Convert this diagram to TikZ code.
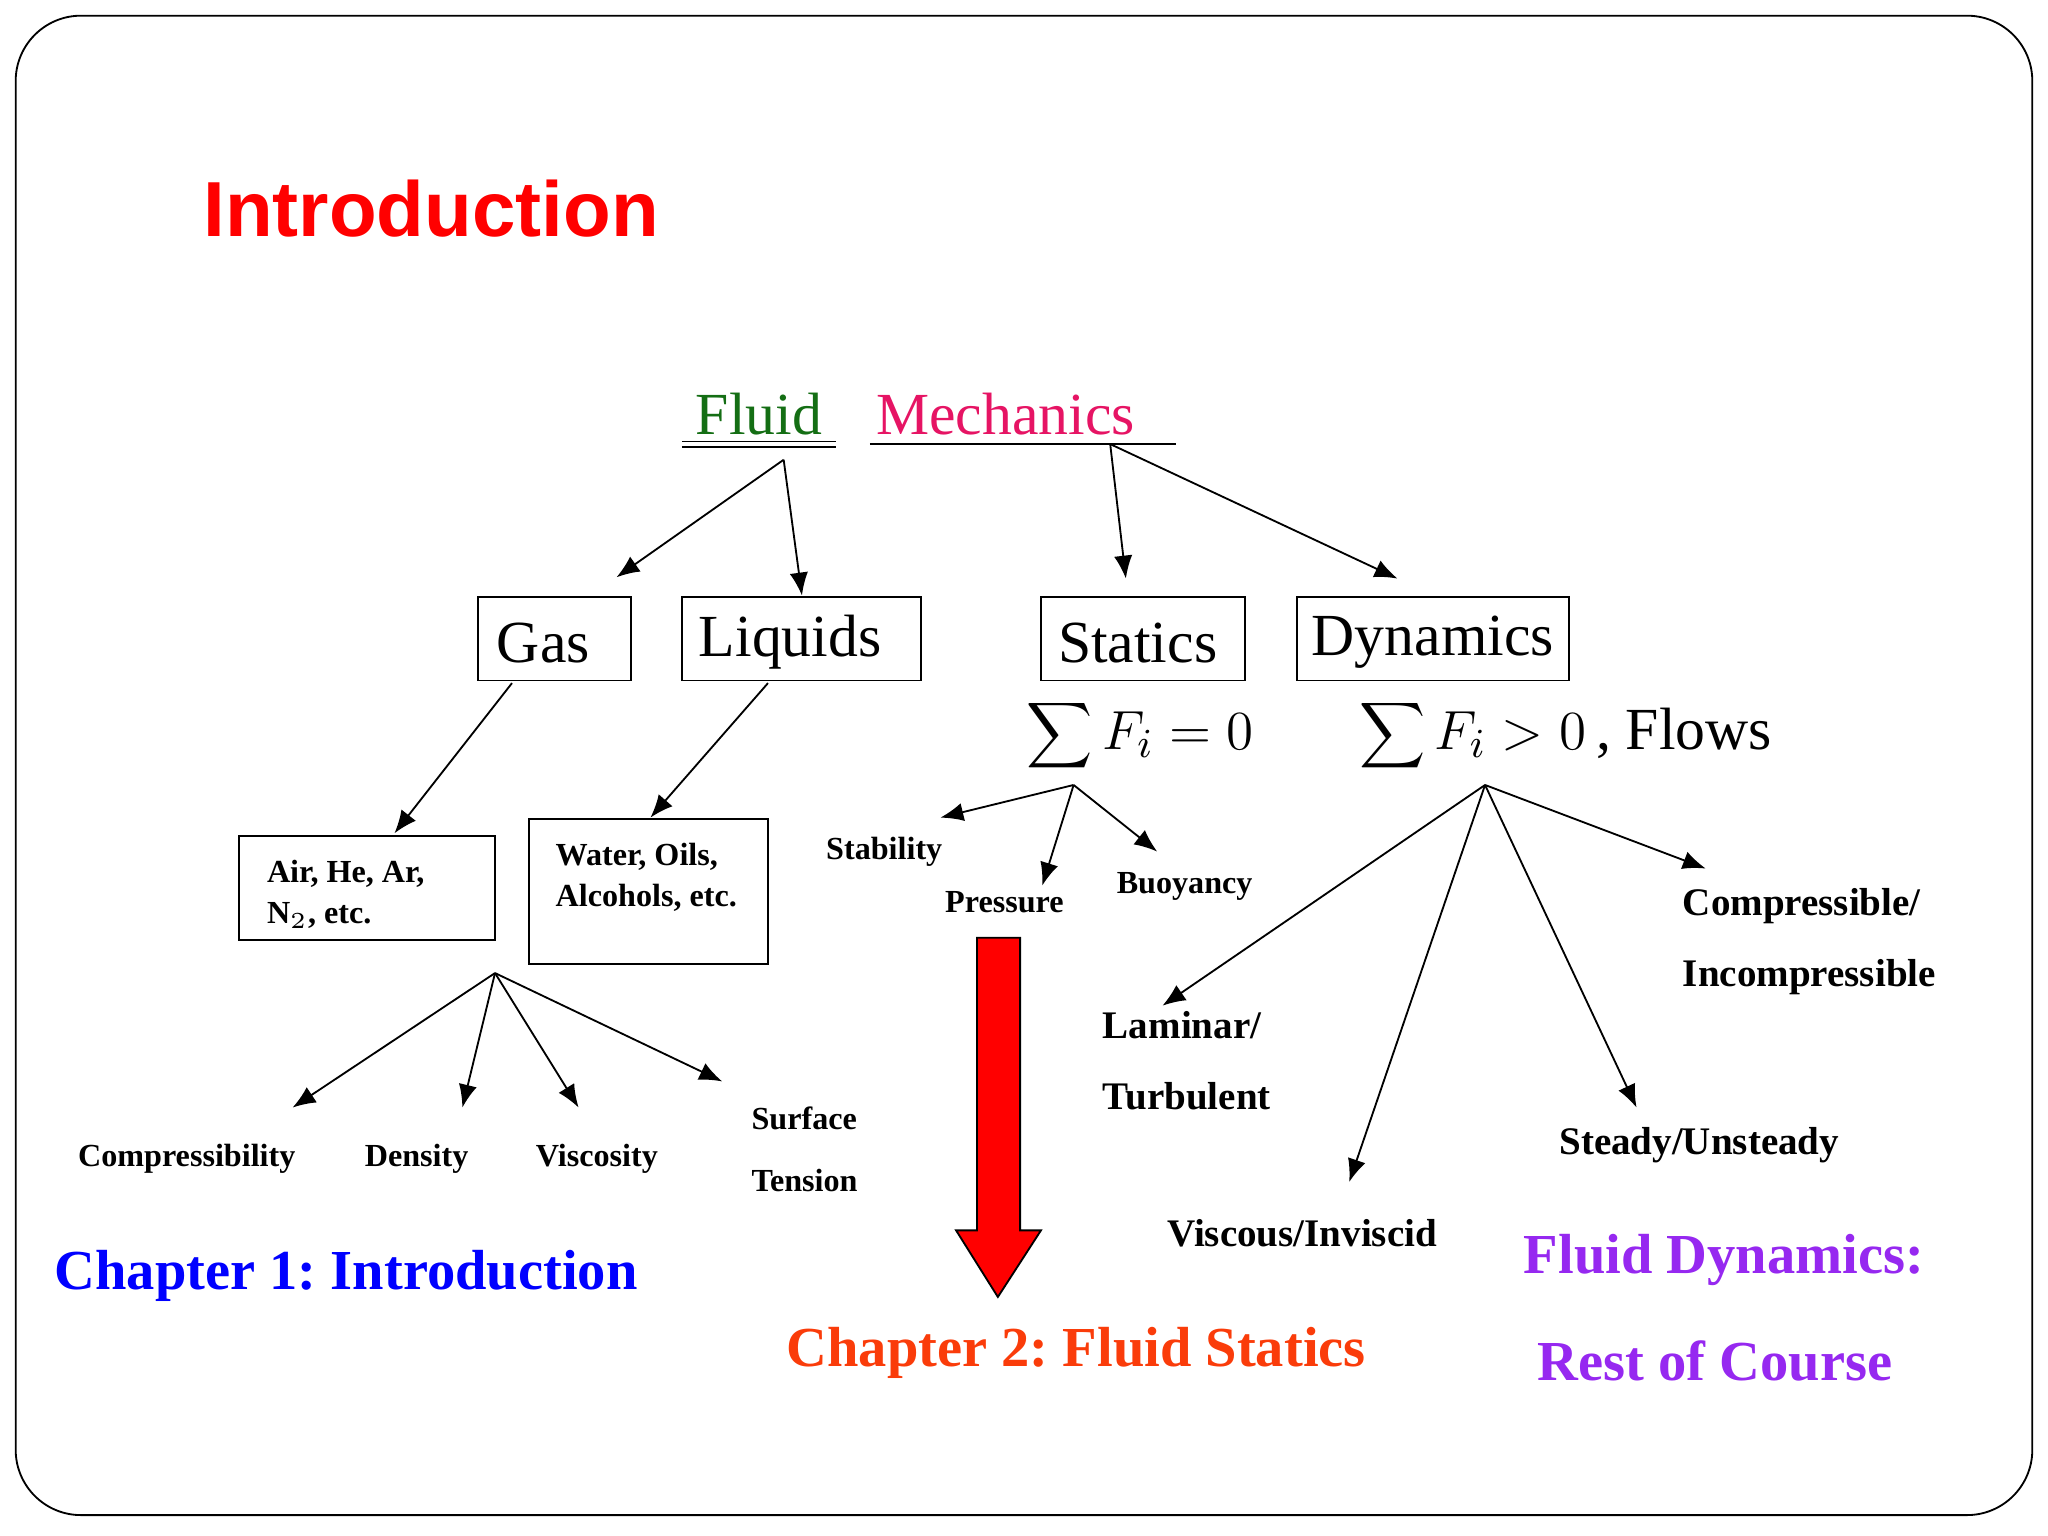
\documentclass[tikz,border=0pt]{standalone}
\usepackage{fontspec}
\setmainfont{Liberation Serif}
\newfontfamily\sansf{Liberation Sans}
\usetikzlibrary{arrows.meta}
\definecolor{fgreen}{RGB}{20,110,20}
\definecolor{fmag}{RGB}{230,20,100}
\definecolor{fpurple}{RGB}{150,40,240}
\definecolor{forange}{RGB}{250,60,10}
\frenchspacing
\begin{document}
\begin{tikzpicture}[x=0.01cm,y=-0.01cm,
  arr/.style={-{Latex[length=5pt,width=4pt]},thin},
  box/.style={draw,thin,inner sep=0pt},
  big/.style={font=\fontsize{13}{15}\selectfont},
  sm/.style={font=\fontsize{7}{9}\selectfont\bfseries,align=left},
  md/.style={font=\fontsize{8.5}{10}\selectfont\bfseries,align=left},
  ch/.style={font=\fontsize{12.3}{14}\selectfont\bfseries}]
\useasboundingbox (0,0) rectangle (1568,1176);
\draw[rounded corners=0.5cm] (12,12) rectangle (1556,1160);
\node[red,font=\sansf\bfseries\fontsize{17}{20}\selectfont,anchor=west,inner sep=0pt] (title) at (155,160) {Introduction};
\node[big,fgreen] (fluid) at (581,317) {Fluid};
\node[big,fmag] (mech) at (770,317) {Mechanics};
\draw[thin] (522,338) -- (640,338) (522,342) -- (640,342);
\draw[thin] (666,340) -- (900,340);
\coordinate (fl) at (600,352); \coordinate (me) at (850,340);
\draw[box] (366,457) rectangle (483,521); \node[big] (gas) at (416,492) {Gas};
\draw[box] (522,457) rectangle (705,521); \node[big] (liq) at (605,492) {Liquids};
\draw[box] (797,457) rectangle (953,521); \node[big] (sta) at (871,492) {Statics};
\draw[box] (993,457) rectangle (1201,521); \node[big] (dyn) at (1097,492) {Dynamics};
\draw[arr] (fl) -- (472,442); \draw[arr] (fl) -- (614,456);
\draw[arr] (me) -- (862,443); \draw[arr] (me) -- (1070,443);
\node[big,inner sep=0pt] (s0) at (873,563) {$\displaystyle\sum F_i = 0$};
\node[big,anchor=west,inner sep=0pt] (s1) at (1040,563) {$\displaystyle\sum F_i > 0$\,, Flows};
\draw[box] (183,640) rectangle (379,720);
\node[sm,anchor=north west] (air) at (192,646) {Air, He, Ar,\\N$_2$, etc.};
\draw[box] (405,627) rectangle (588,738);
\node[sm,anchor=north west] (wat) at (413,633) {Water, Oils,\\Alcohols, etc.};
\draw[arr] (392,523) -- (302,638); \draw[arr] (588,523) -- (498,626);
\coordinate (pr) at (379,745);
\node[sm] (comp) at (143,887) {Compressibility};
\node[sm] (dens) at (319,887) {Density};
\node[sm] (visc) at (457,887) {Viscosity};
\node[sm,align=left,font=\fontsize{7}{13.5}\selectfont\bfseries] (surf) at (616,880) {Surface\\Tension};
\draw[arr] (pr) -- (224,848); \draw[arr] (pr) -- (354,848);
\draw[arr] (pr) -- (443,848); \draw[arr] (pr) -- (553,828);
\node[ch,blue] (c1) at (265,977) {Chapter 1: Introduction};
\coordinate (sp) at (822,601);
\node[sm] (stab) at (677,652) {Stability};
\node[sm] (pres) at (769,691) {Pressure};
\node[sm] (buoy) at (907,679) {Buoyancy};
\draw[arr] (sp) -- (720,626); \draw[arr] (sp) -- (798,678); \draw[arr] (sp) -- (886,652);
\draw[fill=red] (748,718) -- (781,718) -- (781,942) -- (797,942) -- (764,993) -- (732,942) -- (748,942) -- cycle;
\node[ch,forange] (c2) at (824,1036) {Chapter 2: Fluid Statics};
\coordinate (dp) at (1137,601);
\node[md,anchor=west,font=\fontsize{8.5}{15.5}\selectfont\bfseries] (lam) at (832,812) {Laminar/\\Turbulent};
\node[md] (vis) at (997,944) {Viscous/Inviscid};
\node[md] (ste) at (1301,877) {Steady/Unsteady};
\node[md,anchor=west,font=\fontsize{8.5}{15.5}\selectfont\bfseries] (cmp) at (1276,721) {Compressible/\\Incompressible};
\draw[arr] (dp) -- (890,770); \draw[arr] (dp) -- (1033,905);
\draw[arr] (dp) -- (1253,848); \draw[arr] (dp) -- (1306,665);
\node[ch,fpurple] (fd) at (1320,965) {Fluid Dynamics:};
\node[ch,fpurple] (rc) at (1313,1042) {Rest of Course};
\end{tikzpicture}
\end{document}
